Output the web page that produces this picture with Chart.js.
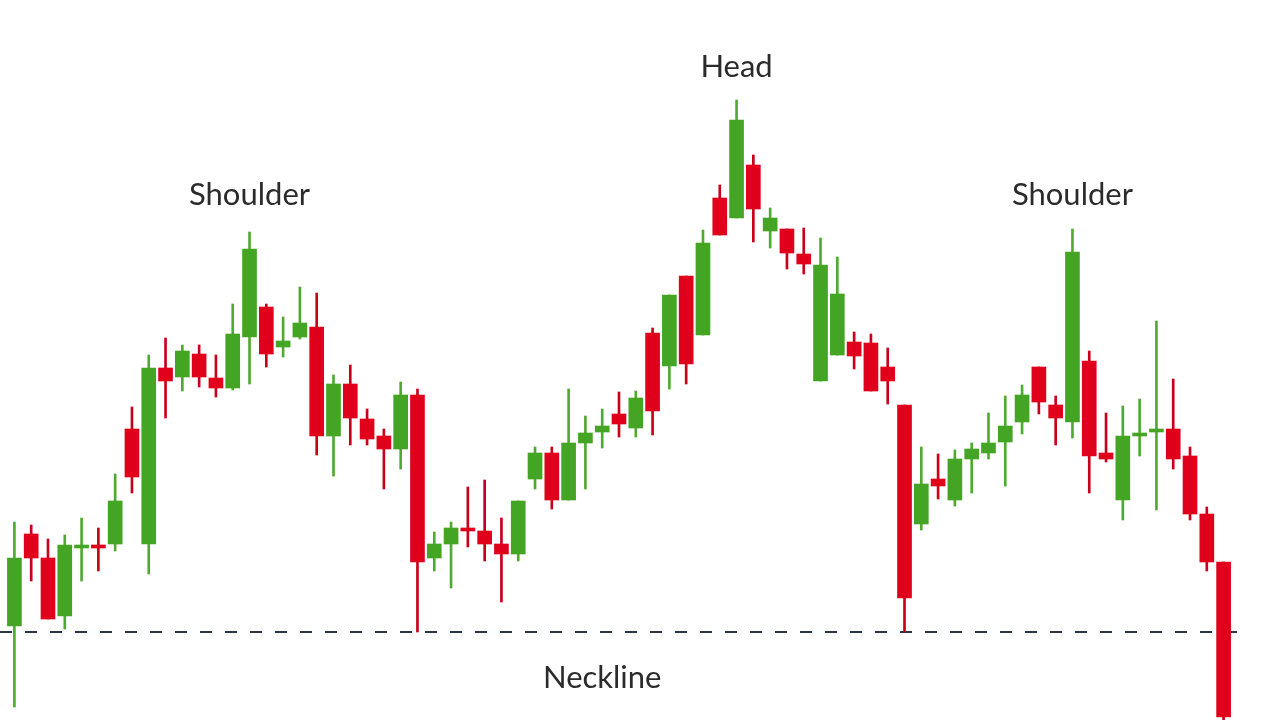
<!DOCTYPE html>
<html>
<head>
<meta charset="utf-8">
<script src="https://cdn.jsdelivr.net/npm/chart.js@4/dist/chart.umd.min.js"></script>
<style>
  html, body { margin: 0; padding: 0; background: #fff; }
</style>
</head>
<body>
<canvas id="candles" width="1280" height="720"></canvas>
<script>
// price axis is drawn reversed: smaller value = higher on screen
const open  = [626,534,558,616,548,545,544,429,544,368,377,354,378,388,337,307,347,337,327,436,384,419,436,449,395,558,544,528,531,544,554,479,453,500,443,432,414,428,333,366,276,335,198,218,165,231,229,254,381,355,342,343,367,405,524,479,500,459,453,442,422,367,405,422,361,453,500,436,432,429,456,514,562];
const high  = [522,525,539,535,518,528,474,407,355,338,345,345,355,304,232,304,317,287,293,375,365,409,429,382,389,532,522,487,480,518,501,447,447,389,416,409,392,391,328,295,276,230,185,100,155,208,229,228,238,257,332,334,348,405,447,454,450,443,413,396,385,367,396,229,351,413,406,399,321,379,447,507,562];
const low   = [707,581,619,629,581,571,551,493,574,418,391,387,397,390,384,367,357,339,455,476,445,445,489,469,632,571,588,547,561,602,561,489,509,500,489,448,437,437,435,389,384,335,235,218,242,248,269,274,381,355,369,391,404,632,530,499,506,493,459,486,434,414,445,438,493,462,520,456,510,469,520,571,720];
const close = [558,558,619,545,545,548,501,477,368,381,351,377,388,334,249,354,341,323,436,384,418,439,449,395,562,544,528,531,544,554,501,453,500,443,433,426,424,398,411,295,364,243,235,120,209,218,253,264,265,294,356,391,381,598,484,486,459,449,443,426,395,402,418,252,456,459,436,433,429,459,514,562,717];
const labels = open.map((_, i) => String(i));

const neckline = 632;
const notes = [
  { text: 'Shoulder', at: 14, y: 195 },
  { text: 'Head', at: 43, y: 67 },
  { text: 'Shoulder', at: 63, y: 195 },
  { text: 'Neckline', at: 35, y: 678 }
];

const GREEN = '#43a523';
const RED = '#e0001b';
const up = open.map((o, i) => close[i] < o);

const overlay = {
  id: 'overlay',
  beforeDatasetsDraw(chart) {
    const { ctx, scales: { y } } = chart;
    const py = y.getPixelForValue(neckline);
    ctx.save();
    ctx.strokeStyle = '#2a3646';
    ctx.lineWidth = 2;
    ctx.setLineDash([12, 13]);
    ctx.beginPath();
    ctx.moveTo(0, py);
    ctx.lineTo(1238, py);
    ctx.stroke();
    ctx.restore();
  },
  afterDraw(chart) {
    const { ctx, scales: { x, y } } = chart;
    ctx.save();
    ctx.fillStyle = '#2b2b2b';
    ctx.font = '31px Lato';
    ctx.textAlign = 'center';
    ctx.textBaseline = 'middle';
    for (const n of notes) {
      ctx.fillText(n.text, x.getPixelForValue(n.at), y.getPixelForValue(n.y));
    }
    ctx.restore();
  }
};

new Chart(document.getElementById('candles'), {
  type: 'bar',
  data: {
    labels: labels,
    datasets: [
      {
        label: 'body',
        data: open.map((o, i) => [o, close[i]]),
        backgroundColor: up.map(u => u ? GREEN : RED),
        barThickness: 14,
        minBarLength: 3,
        grouped: false,
        order: 0
      },
      {
        label: 'wick',
        data: high.map((h, i) => [h, low[i]]),
        backgroundColor: up.map(u => u ? '#4fab30' : '#c8001a'),
        barThickness: 2,
        grouped: false,
        order: 1
      }
    ]
  },
  options: {
    responsive: false,
    animation: false,
    devicePixelRatio: 1,
    layout: { padding: { left: 6, right: 48, top: 0, bottom: 0 } },
    plugins: { legend: { display: false }, tooltip: { enabled: false } },
    scales: {
      x: { display: false, offset: true },
      y: { display: false, reverse: true, min: 0, max: 720 }
    }
  },
  plugins: [overlay]
});
</script>
</body>
</html>
